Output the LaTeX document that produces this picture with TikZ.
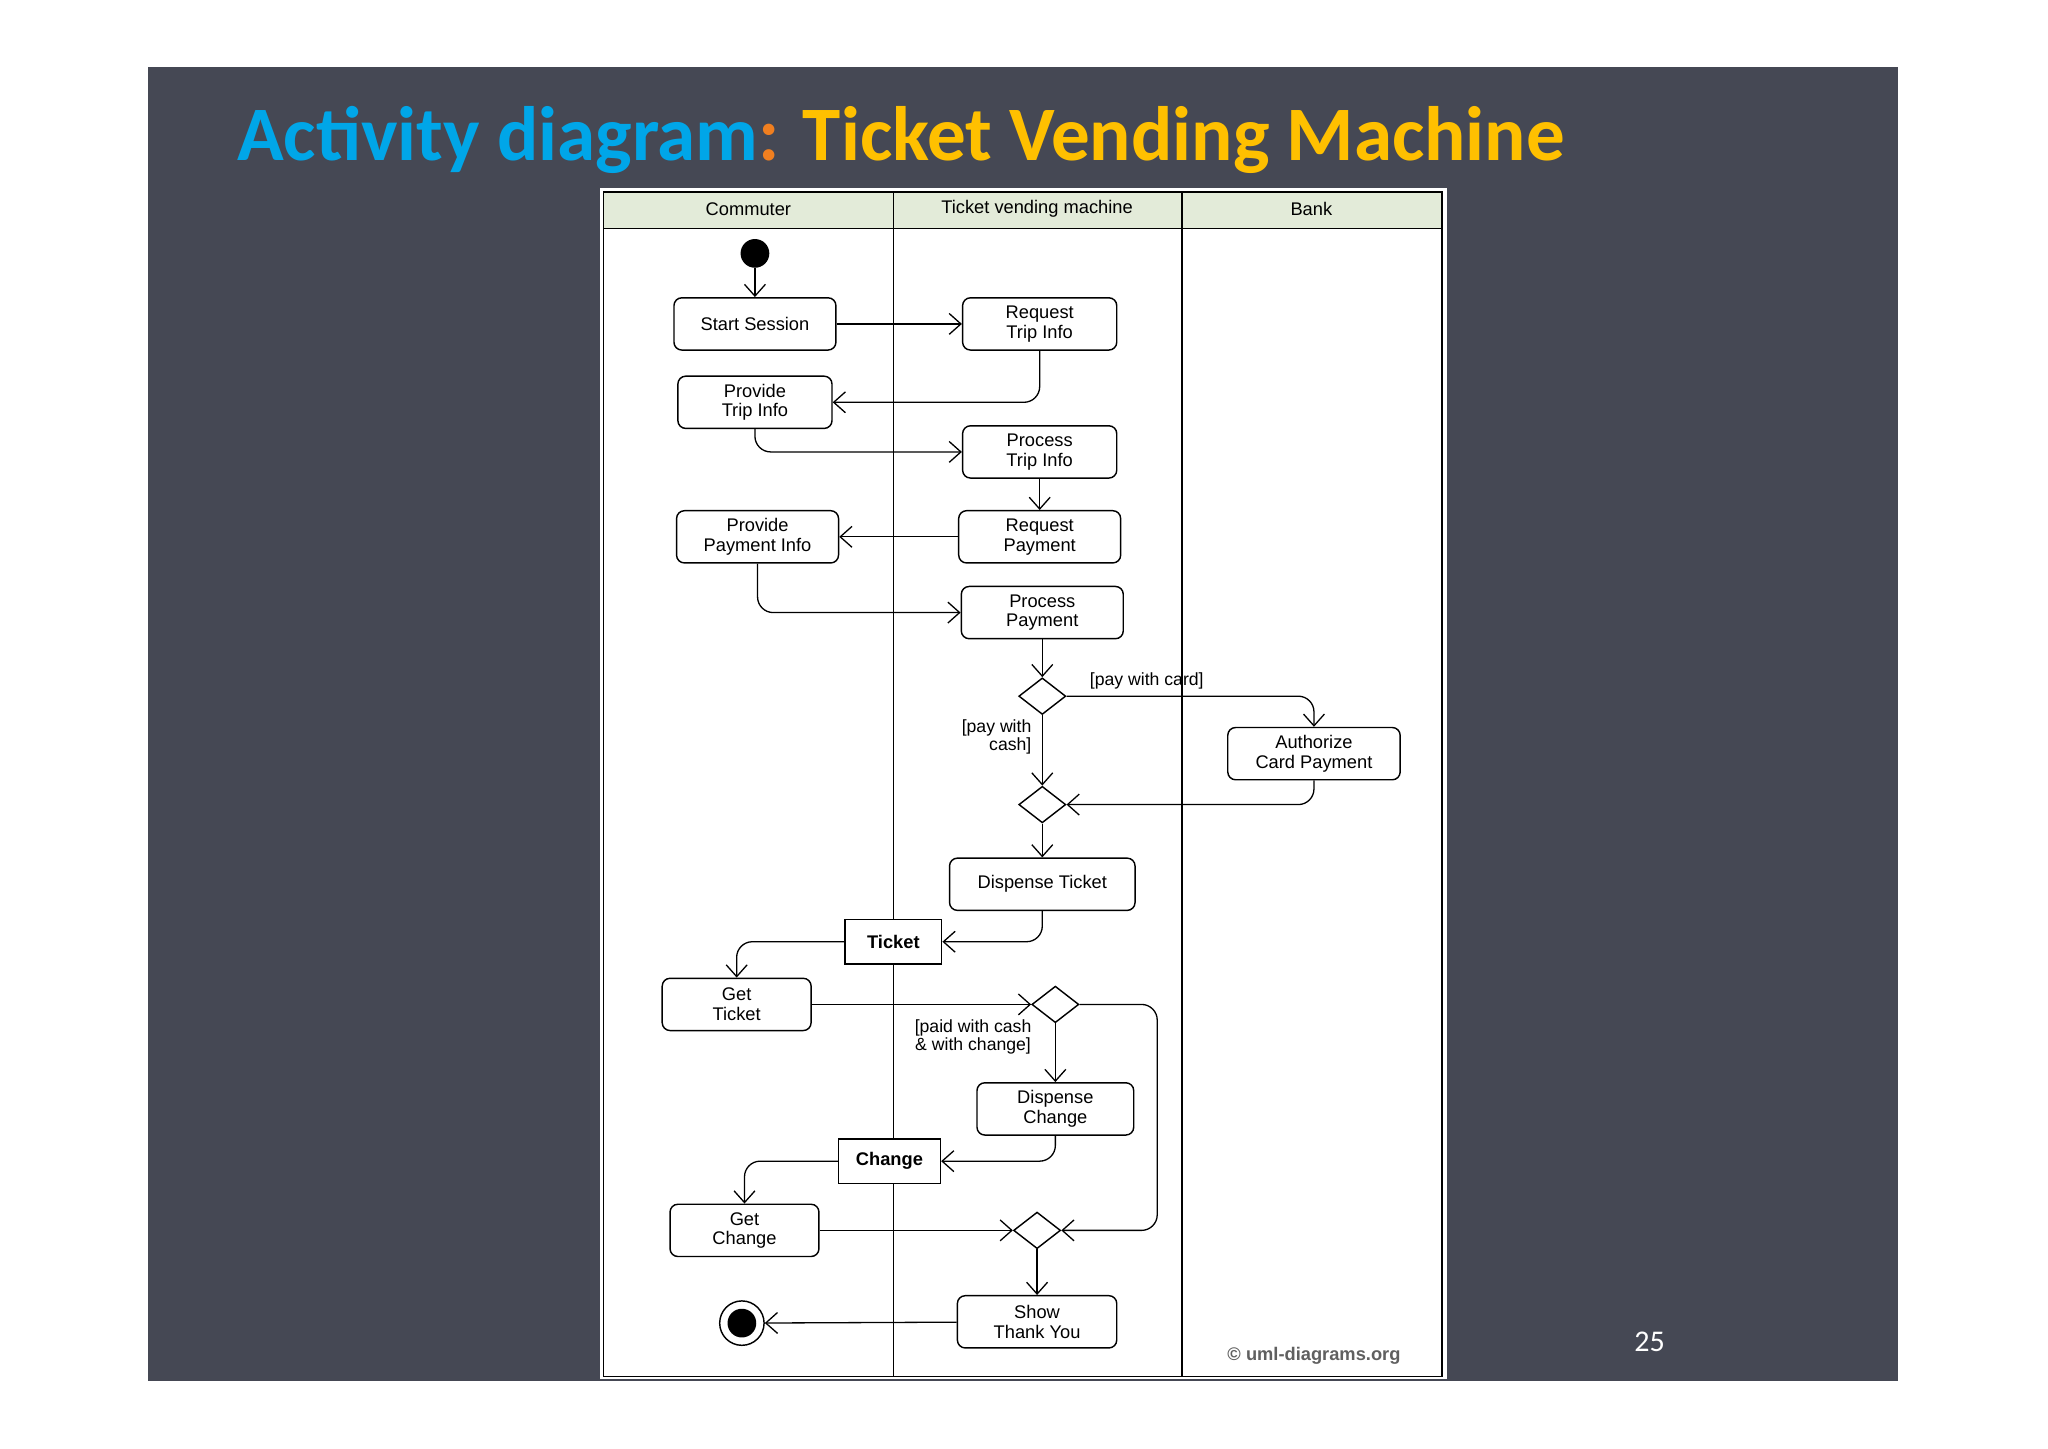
\documentclass[tikz,border=0pt]{standalone}
\usepackage{fontspec}
\setmainfont{Liberation Sans}
\newfontfamily\slidefont{Carlito}
\usetikzlibrary{arrows.meta,shapes.geometric}
\definecolor{slidebg}{HTML}{454854}
\definecolor{headbg}{HTML}{E3EBD9}
\definecolor{titleblue}{HTML}{00A6E8}
\definecolor{titleyellow}{HTML}{FFC000}
\definecolor{titleorange}{HTML}{F07F20}
\tikzset{
  act/.style={draw, rounded corners=6pt, line width=1.1pt, fill=white, align=center,
    inner sep=0pt, font=\fontsize{14}{15}\selectfont},
  obj/.style={draw, line width=1.1pt, fill=white, inner sep=0pt, font=\bfseries\fontsize{14}{15}\selectfont},
  dec/.style={draw, line width=1.1pt, diamond, fill=white, minimum width=36pt, minimum height=28pt, inner sep=0pt},
  flow/.style={-{Straight Barb[length=9pt,width=16pt]}, line width=1pt, rounded corners=12pt},
  guard/.style={font=\fontsize{13.5}{14}\selectfont, align=center}
}
\begin{document}
\begin{tikzpicture}[x=1pt,y=-1pt]
  \useasboundingbox (0,0) rectangle (1568,1109);
  \fill[white] (0,0) rectangle (1568,1109);
  \fill[slidebg] (113,51) rectangle (1453,1057);

  % title and page number
  \node[anchor=west, font=\slidefont\bfseries\fontsize{59}{64}\selectfont] (title) at (178,107)
    {\textcolor{titleblue}{Activity diagram}\textcolor{titleorange}{:} \textcolor{titleyellow}{Ticket Vending Machine}};
  \node[text=white, font=\slidefont\fontsize{23}{24}\selectfont] (page) at (1263,1027) {25};

  % swimlanes
  \fill[white] (459,144) rectangle (1108,1056);
  \fill[headbg] (462,147) rectangle (1104,175);
  \draw[line width=1.2pt] (462,147) rectangle (1104,1054);
  \draw[line width=1.2pt] (462,175) -- (1104,175);
  \draw[line width=1.2pt] (684,147) -- (684,1054);
  \draw[line width=1.2pt] (905,147) -- (905,1054);
  \node[font=\fontsize{14}{15}\selectfont] (lane1) at (573,160) {Commuter};
  \node[font=\fontsize{14}{15}\selectfont] (lane2) at (794,160) {Ticket vending machine};
  \node[font=\fontsize{14}{15}\selectfont] (lane3) at (1004,160) {Bank};

  % nodes
  \node[circle, fill=black, minimum size=22pt, inner sep=0pt] (init) at (578,194) {};
  \node[act, minimum width=124pt, minimum height=40pt] (start) at (578,248) {Start Session};
  \node[act, minimum width=118pt, minimum height=40pt] (reqtrip) at (796,248) {Request\\Trip Info};
  \node[act, minimum width=118pt, minimum height=40pt] (provtrip) at (578,308) {Provide\\Trip Info};
  \node[act, minimum width=118pt, minimum height=40pt] (proctrip) at (796,346) {Process\\Trip Info};
  \node[act, minimum width=124pt, minimum height=40pt] (reqpay) at (796,411) {Request\\Payment};
  \node[act, minimum width=124pt, minimum height=40pt] (provpay) at (580,411) {Provide\\Payment Info};
  \node[act, minimum width=124pt, minimum height=40pt] (procpay) at (798,469) {Process\\Payment};
  \node[dec] (d1) at (798,533) {};
  \node[act, minimum width=132pt, minimum height=40pt] (auth) at (1006,577) {Authorize\\Card Payment};
  \node[dec] (d2) at (798,616) {};
  \node[act, minimum width=142pt, minimum height=40pt] (disticket) at (798,677) {Dispense Ticket};
  \node[obj, minimum width=74pt, minimum height=34pt] (ticket) at (684,721) {Ticket};
  \node[act, minimum width=114pt, minimum height=40pt] (getticket) at (564,769) {Get\\Ticket};
  \node[dec] (d3) at (808,769) {};
  \node[act, minimum width=120pt, minimum height=40pt] (distchange) at (808,849) {Dispense\\Change};
  \node[obj, minimum width=78pt, minimum height=34pt] (change) at (681,889) {Change};
  \node[act, minimum width=114pt, minimum height=40pt] (getchange) at (570,942) {Get\\Change};
  \node[dec] (d4) at (794,942) {};
  \node[act, minimum width=122pt, minimum height=40pt] (thanks) at (794,1012) {Show\\Thank You};
  \node[circle, draw, line width=1.1pt, fill=white, minimum size=34pt, inner sep=0pt] (final) at (568,1013) {};
  \fill (final) circle (11pt);

  % guards
  \node[guard] (gcard) at (878,521) {[pay with card]};
  \node[guard, align=right] (gcash) at (763,564) {[pay with\\cash]};
  \node[guard] (gchange) at (745,794) {[paid with cash\\\& with change]};
  \node[text=gray!75!black, font=\rmfamily\bfseries\fontsize{14}{15}\selectfont] (copy) at (1006,1038) {\textcopyright{} uml-diagrams.org};

  % flows
  \draw[flow] (init) -- (start);
  \draw[flow] (start) -- (reqtrip);
  \draw[flow] (reqtrip.south) |- (provtrip.east);
  \draw[flow] (provtrip.south) |- (proctrip.west);
  \draw[flow] (proctrip) -- (reqpay);
  \draw[flow] (reqpay) -- (provpay);
  \draw[flow] (provpay.south) |- (procpay.west);
  \draw[flow] (procpay) -- (d1);
  \draw[flow] (d1.east) -| (auth.north);
  \draw[flow] (d1.south) -- (d2.north);
  \draw[flow] (auth.south) |- (d2.east);
  \draw[flow] (d2) -- (disticket);
  \draw[flow] (disticket.south) |- (ticket.east);
  \draw[flow] (ticket.west) -| (getticket.north);
  \draw[flow] (getticket.east) -- (d3.west);
  \draw[flow] (d3.south) -- (distchange.north);
  \draw[flow] (d3.east) -- (886,769) -- (886,942) -- (d4.east);
  \draw[flow] (distchange.south) |- (change.east);
  \draw[flow] (change.west) -| (getchange.north);
  \draw[flow] (getchange.east) -- (d4.west);
  \draw[flow] (d4) -- (thanks);
  \draw[flow] (thanks) -- (final);
\end{tikzpicture}
\end{document}
